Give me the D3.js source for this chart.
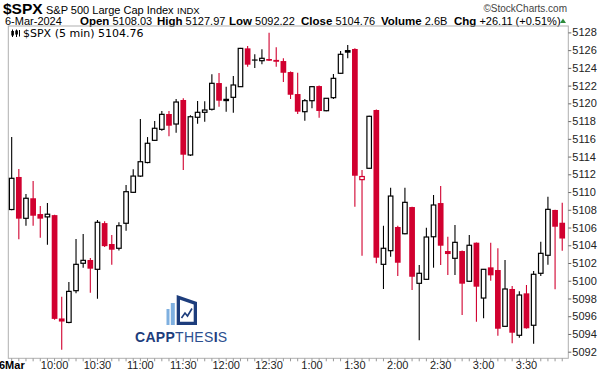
<!DOCTYPE html>
<html><head><meta charset="utf-8">
<script src="https://cdn.jsdelivr.net/npm/d3@7"></script>
<style>
html,body{margin:0;padding:0;background:#fff;}
svg{display:block;font-family:"Liberation Sans",Arial,sans-serif;}
</style></head>
<body><svg id="c" width="601" height="374"></svg>
<script>
// ---------- data ----------
const opens  = [5108.03,5111.7,5107.04,5109.3,5107.52,5107.2,5107.4,5095.75,5095.3,5098.88,
5101.97,5102.34,5101.29,5106.5,5104.14,5103.66,5106.48,5109.97,5111.8,5113.33,
5115.83,5117.07,5118.8,5117.67,5120.38,5114.18,5118.43,5118.99,5119.33,5122.29,
5120.42,5120.68,5121.88,5126.2,5124.95,5124.81,5125.0,5124.9,5124.77,5123.53,
5121.05,5119.06,5120.3,5121.95,5119.17,5120.64,5123.39,5126.01,5126.13,5111.4,
5112.68,5119.25,5101.85,5103.39,5106.06,5105.3,5108.31,5099.71,5100.16,5104.96,
5108.76,5103.35,5102.53,5103.35,5099.94,5104.29,5098.05,5101.51,5101.21,5094.86,
5099.07,5093.85,5098.58,5094.98,5100.84,5102.87,5107.98,5106.54];
const highs  = [5116.2,5112.6,5109.78,5111.24,5108.43,5108.76,5107.45,5098.2,5099.86,5104.7,
5105.27,5102.56,5106.85,5106.7,5105.16,5106.6,5110.79,5112.56,5118.23,5116.2,
5118.0,5119.14,5119.14,5120.49,5120.57,5118.65,5120.26,5120.23,5123.27,5123.42,
5121.87,5123.08,5126.25,5126.46,5125.53,5126.09,5127.97,5126.32,5125.08,5123.6,
5123.45,5120.49,5121.95,5122.0,5120.6,5123.3,5125.9,5126.58,5126.2,5112.48,
5118.6,5119.3,5106.2,5110.49,5106.2,5110.49,5108.35,5101.77,5105.98,5109.67,
5110.68,5104.97,5106.28,5103.4,5105.16,5104.3,5101.3,5104.29,5103.66,5102.34,
5099.41,5098.81,5099.52,5101.1,5104.4,5109.47,5108.0,5108.8];
const lows   = [5107.95,5104.67,5106.2,5106.2,5104.85,5104.06,5095.6,5092.22,5095.2,5098.6,
5101.47,5098.65,5097.97,5103.8,5101.8,5103.4,5105.64,5109.9,5111.7,5113.24,
5115.75,5116.9,5116.3,5116.69,5112.48,5114.06,5117.7,5117.93,5119.2,5119.62,
5119.06,5118.94,5121.85,5124.13,5124.0,5124.4,5124.78,5124.13,5122.4,5120.49,
5118.8,5118.04,5119.44,5118.38,5119.1,5120.49,5123.35,5125.08,5108.35,5102.82,
5112.6,5101.97,5099.07,5102.71,5100.53,5105.25,5098.96,5093.3,5100.1,5101.47,
5101.77,5100.65,5100.65,5096.14,5099.9,5095.38,5095.77,5100.0,5093.8,5094.8,
5092.95,5093.58,5094.6,5092.9,5100.53,5101.8,5099.03,5103.39];
const closes = [5111.55,5107.0,5109.3,5107.33,5107.0,5107.5,5095.7,5095.4,5098.8,5101.85,
5102.3,5101.36,5106.59,5103.9,5103.5,5106.2,5110.04,5111.8,5113.42,5115.5,
5117.19,5118.76,5117.48,5120.15,5114.21,5118.49,5118.99,5119.25,5122.26,5120.3,
5120.45,5122.07,5126.2,5124.36,5124.85,5125.08,5124.81,5124.69,5123.45,5120.97,
5119.06,5120.3,5121.88,5119.14,5120.57,5122.82,5125.53,5125.71,5111.84,5111.75,
5118.54,5102.6,5103.66,5109.55,5102.03,5108.84,5100.45,5100.84,5104.93,5108.54,
5103.95,5103.01,5104.33,5099.67,5104.0,5099.33,5101.29,5100.61,5094.59,5099.07,
5094.14,5098.39,5094.64,5100.73,5103.09,5108.05,5106.09,5104.76];
const prevDayClose = 5078.65;
const timeLabels = ["10:00","10:30","11:00","11:30","12:00","12:30","1:00","1:30","2:00","2:30","3:00","3:30"];
const timeLabelIdx = [6,12,18,24,30,36,42,48,54,60,66,72];
const yTicks = [5092,5094,5096,5098,5100,5102,5104,5106,5108,5110,5112,5114,5116,5118,5120,5122,5124,5126,5128];
const headerStats = [["Open","5108.03"],["High","5127.97"],["Low","5092.22"],["Close","5104.76"],["Volume","2.6B"],["Chg","+26.11 (+0.51%)"]];
const headerStatX = [80,157,229,301,381,454];

// ---------- layout ----------
const svg = d3.select("#c");
const L = 8.3, R = 568.3, T = 26, B = 358.3;
const RED = "#d1002f";

const candles = opens.map((o,i)=>({i,o,h:highs[i],l:lows[i],c:closes[i],pc:i?closes[i-1]:prevDayClose}));

const x = d3.scaleBand().domain(d3.range(candles.length)).range([8.1,565.8]).paddingInner(0.2).paddingOuter(0.1);
const y = d3.scaleLinear().domain([5092,5128]).range([351.7,32.4]);

// header
const hdr = svg.append("g").attr("fill","#000");
hdr.append("text").attr("x",3).attr("y",13.5).attr("font-size",15.5).attr("font-weight","bold").text("$SPX");
hdr.append("text").attr("x",46).attr("y",13.5).attr("font-size",11).text("S&P 500 Large Cap Index");
hdr.append("text").attr("x",177).attr("y",13.5).attr("font-size",9.5).text("INDX");
hdr.append("text").attr("x",567).attr("y",12).attr("font-size",10).attr("text-anchor","end").attr("fill","#444").text("\u00A9StockCharts.com");
hdr.append("text").attr("x",5).attr("y",24.5).attr("font-size",11).text("6-Mar-2024");
headerStats.forEach((s,k)=>{
  const t = hdr.append("text").attr("x",headerStatX[k]).attr("y",24.5).attr("font-size",11);
  t.append("tspan").attr("font-weight","bold").attr("font-size",11.5).text(s[0]);
  t.append("tspan").text(" "+s[1]);
});
hdr.append("path").attr("d","M560,23 L566,23 L563,18.5 Z").attr("fill","#2e8b3a");

// watermark logo
const lg = svg.append("g");
lg.append("rect").attr("x",166.5).attr("y",309).attr("width",3).attr("height",16).attr("fill","#7fb0e0");
lg.append("rect").attr("x",170.8).attr("y",303).attr("width",4).attr("height",22).attr("fill","#7fb0e0");
lg.append("path").attr("d","M176.7,295 L197,302 L197,325 L176.7,325 Z").attr("fill","#1d3d7c");
lg.append("path").attr("d","M180,299.8 L193.7,304.5 L193.7,321.8 L180,321.8 Z").attr("fill","#fff");
lg.append("path").attr("d","M181.5,318 L185,313 L187.5,316 L192,308.5").attr("fill","none").attr("stroke","#1d3d7c").attr("stroke-width",1.6);
const lt = lg.append("text").attr("x",135).attr("y",341.5).attr("font-size",14).attr("letter-spacing",0.3);
lt.append("tspan").attr("font-weight","bold").attr("fill","#1d3d7c").text("CAPP");
lt.append("tspan").attr("fill","#2c4f90").text("THES");
lt.append("tspan").attr("font-weight","bold").attr("fill","#1d3d7c").text("I");
lt.append("tspan").attr("fill","#2c4f90").text("S");

// plot border
svg.append("rect").attr("x",L).attr("y",T).attr("width",R-L).attr("height",B-T)
  .attr("fill","none").attr("stroke","#b0b0b0").attr("stroke-width",1);

// legend
const lgd = svg.append("g");
lgd.append("line").attr("x1",12.5).attr("x2",12.5).attr("y1",29.5).attr("y2",37).attr("stroke","#000");
lgd.append("rect").attr("x",11.3).attr("y",31).attr("width",2.6).attr("height",4.5).attr("fill","#000");
lgd.append("line").attr("x1",16.5).attr("x2",16.5).attr("y1",29.5).attr("y2",37).attr("stroke","#000");
lgd.append("rect").attr("x",15.3).attr("y",30.5).attr("width",2.6).attr("height",4).attr("fill","#000");
lgd.append("line").attr("x1",19.5).attr("x2",19.5).attr("y1",30).attr("y2",36.5).attr("stroke","#000");
lgd.append("text").attr("x",23).attr("y",37.3).attr("font-size",11).attr("font-family","DejaVu Sans")
  .text("$SPX (5 min) 5104.76");

// candles
const cg = svg.append("g");
const col = d => d.c >= d.pc ? "#000" : RED;
const bw = x.bandwidth();
cg.selectAll("line.w").data(candles).join("line").attr("class","w")
  .attr("x1",d=>x(d.i)+bw/2).attr("x2",d=>x(d.i)+bw/2)
  .attr("y1",d=>y(d.h)).attr("y2",d=>y(d.l))
  .attr("stroke",col).attr("stroke-width",1.1);
cg.selectAll("rect.b").data(candles).join("rect").attr("class","b")
  .attr("x",d=> d.c>d.o ? x(d.i)+0.6 : x(d.i))
  .attr("width",d=> d.c>d.o ? bw-1.2 : bw)
  .attr("y",d=> y(Math.max(d.o,d.c)))
  .attr("height",d=>Math.max(1.2, Math.abs(y(d.o)-y(d.c))))
  .attr("fill",d=> d.c>d.o ? "#fff" : col(d))
  .attr("stroke",d=> d.c>d.o ? col(d) : "none")
  .attr("stroke-width",1.2);

// y axis
const ya = svg.append("g").attr("transform",`translate(${R},0)`)
  .call(d3.axisRight(y).tickValues(yTicks).tickSize(3).tickPadding(1).tickFormat(d=>d));
ya.select(".domain").remove();
ya.selectAll("line").attr("stroke","#666");
ya.selectAll("text").attr("font-size",11).attr("font-family","Liberation Sans, Arial").attr("fill","#222");

// x axis
const lblMap = new Map(timeLabelIdx.map((k,j)=>[k,timeLabels[j]]));
const xa = svg.append("g").attr("transform",`translate(0,${B})`)
  .call(d3.axisBottom(x).tickSize(3).tickPadding(0).tickFormat(i=>lblMap.get(i)||""));
xa.select(".domain").remove();
xa.selectAll("line").attr("stroke","#999");
xa.selectAll("text").attr("font-size",11).attr("font-family","Liberation Sans, Arial").attr("fill","#222");
svg.append("text").attr("x",-1).attr("y",369).attr("font-size",11).attr("font-weight","bold").text("6Mar");
</script></body></html>
